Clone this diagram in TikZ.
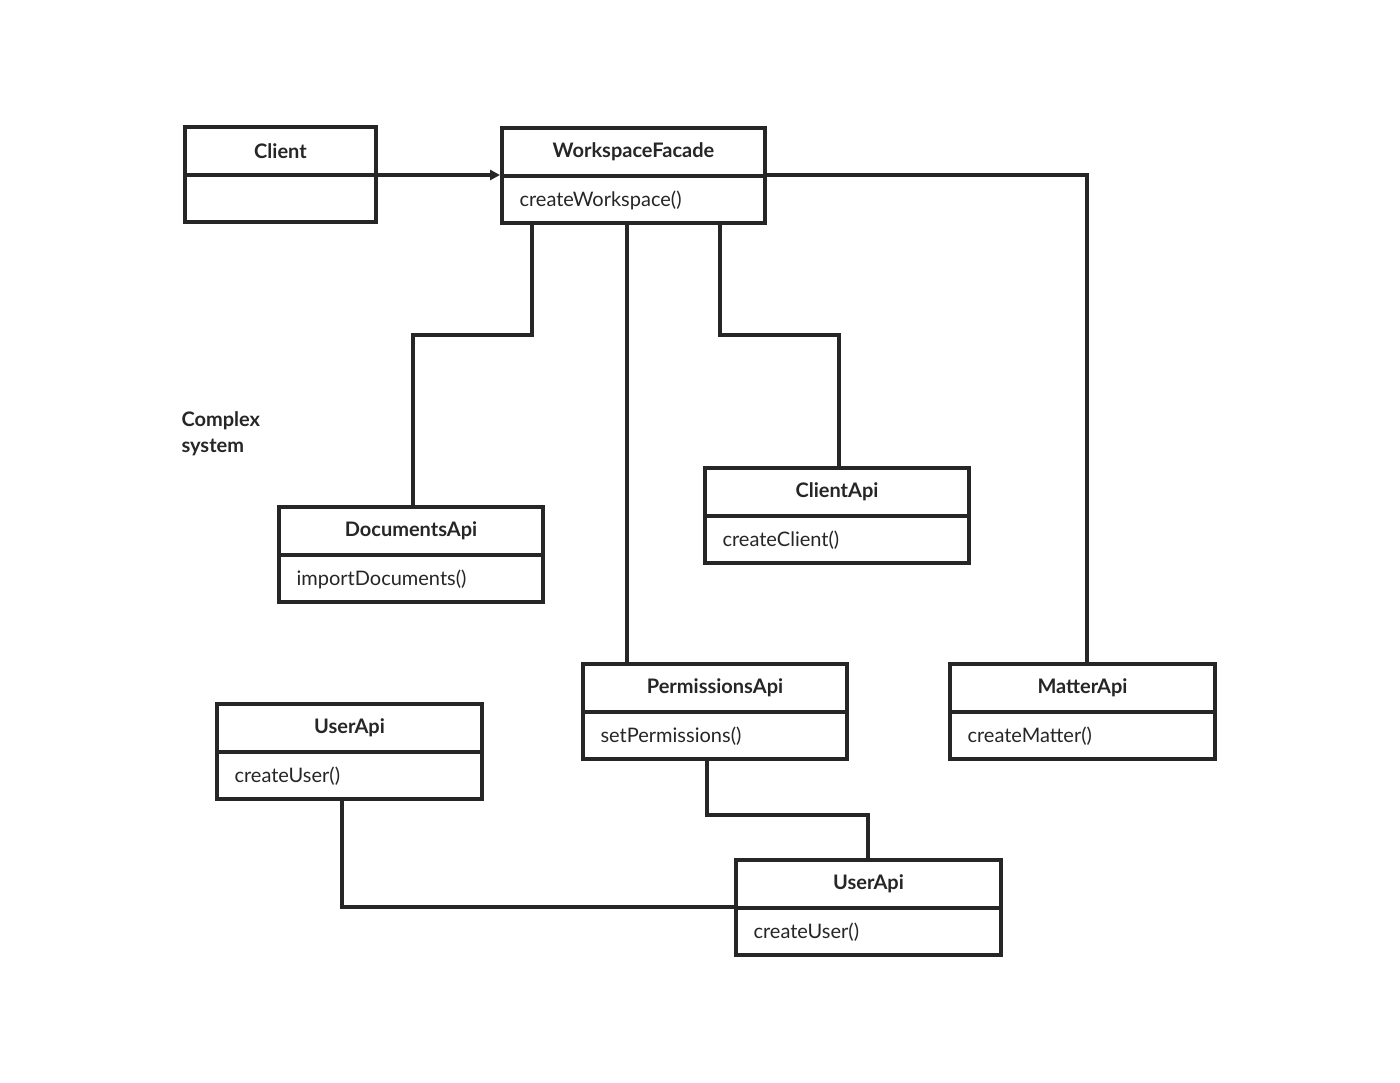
\documentclass[tikz,border=0pt]{standalone}
\usepackage{fontspec}
\setmainfont{Lato}
\usetikzlibrary{arrows.meta,calc}
\tikzset{
  umlbox/.style={draw=black!85,line width=4pt,inner sep=0pt,fill=none},
  conn/.style={draw=black!85,line width=4pt},
  ttl/.style={font=\bfseries\fontsize{20}{24}\selectfont,text=black!85},
  mth/.style={font=\fontsize{20}{24}\selectfont,text=black!85,anchor=west},
}
\newcommand{\umlcls}[7]{% name x1 y1 x2 y2 title method
  \node[umlbox,minimum width={#4-#2-4},minimum height={#5-#3-4}] (#1) at ({(#2+#4)/2},{(#3+#5)/2}) {};
  \draw[conn] (#1.west |- 0,{#3+50}) -- (#1.east |- 0,{#3+50});
  \node[ttl] (#1t) at ({(#2+#4)/2},{#3+26}) {#6};
  \node[mth] (#1m) at ({#2+16},{#3+74}) {#7};
}
\begin{document}
\begin{tikzpicture}[x=1pt,y=-1pt]
\useasboundingbox[fill=white] (0,0) rectangle (1400,1082);
\umlcls{client}{183}{125}{378}{224}{Client}{}
\umlcls{fac}{500}{126}{767}{225}{WorkspaceFacade}{createWorkspace()}
\umlcls{docs}{277}{505}{545}{604}{DocumentsApi}{importDocuments()}
\umlcls{capi}{703}{466}{971}{565}{ClientApi}{createClient()}
\umlcls{perm}{581}{662}{849}{761}{PermissionsApi}{setPermissions()}
\umlcls{matter}{948}{662}{1217}{761}{MatterApi}{createMatter()}
\umlcls{userA}{215}{702}{484}{801}{UserApi}{createUser()}
\umlcls{userB}{734}{858}{1003}{957}{UserApi}{createUser()}
\node[ttl,anchor=north west,align=left,font=\bfseries\fontsize{20}{26}\selectfont] (cs) at (178,408) {Complex\\system};
\draw[conn,-{Triangle[length=10pt,width=10pt]}] (client.east |- 0,175) -- (fac.west |- 0,175);
\draw[conn] (fac.south -| 532,0) -- (532,335) -- (413,335) -- (docs.north -| 413,0);
\draw[conn] (fac.south -| 627,0) -- (perm.north -| 627,0);
\draw[conn] (fac.south -| 720,0) -- (720,335) -- (839,335) -- (capi.north -| 839,0);
\draw[conn] (fac.east |- 0,175) -- (1087,175) -- (matter.north -| 1087,0);
\draw[conn] (perm.south -| 707,0) -- (707,815) -- (868,815) -- (userB.north -| 868,0);
\draw[conn] (userA.south -| 342,0) -- (342,907) -- (userB.west |- 0,907);
\end{tikzpicture}
\end{document}
